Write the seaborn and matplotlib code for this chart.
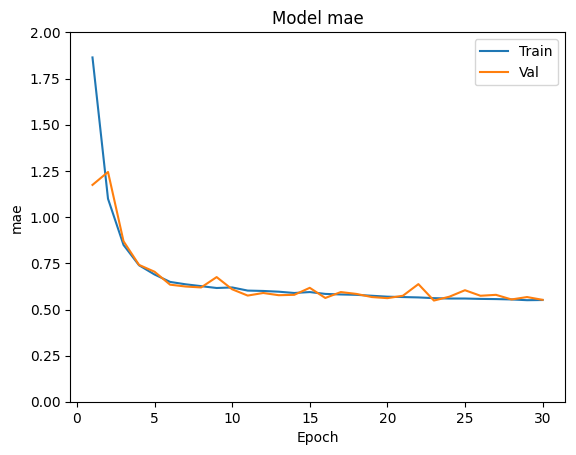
import pandas as pd
import seaborn as sns
import matplotlib.pyplot as plt

epochs = list(range(1, 31))
train_mae = [1.865, 1.10, 0.85, 0.74, 0.69, 0.65, 0.637, 0.627, 0.617, 0.62,
             0.603, 0.601, 0.597, 0.59, 0.595, 0.585, 0.582, 0.58, 0.575, 0.57,
             0.568, 0.566, 0.562, 0.56, 0.56, 0.558, 0.557, 0.555, 0.551, 0.552]
val_mae = [1.175, 1.245, 0.87, 0.742, 0.705, 0.635, 0.625, 0.62, 0.676, 0.61,
           0.576, 0.59, 0.578, 0.58, 0.618, 0.563, 0.595, 0.585, 0.568, 0.562,
           0.575, 0.638, 0.549, 0.57, 0.605, 0.575, 0.58, 0.555, 0.568, 0.553]

df = pd.DataFrame({"Epoch": epochs + epochs,
                   "mae": train_mae + val_mae,
                   "set": ["Train"] * 30 + ["Val"] * 30})

fig, ax = plt.subplots(figsize=(5.76, 4.55), dpi=100)
sns.lineplot(data=df, x="Epoch", y="mae", hue="set",
             palette=["#1f77b4", "#ff7f0e"], ax=ax)
ax.set_ylim(0, 2.0)
ax.set_title("Model mae")
ax.set_xlabel("Epoch")
ax.set_ylabel("mae")
ax.legend(title=None, loc="upper right")
plt.subplots_adjust(left=0.1215, right=0.981, top=0.9286, bottom=0.1165)
plt.savefig("out.png", dpi=100)
